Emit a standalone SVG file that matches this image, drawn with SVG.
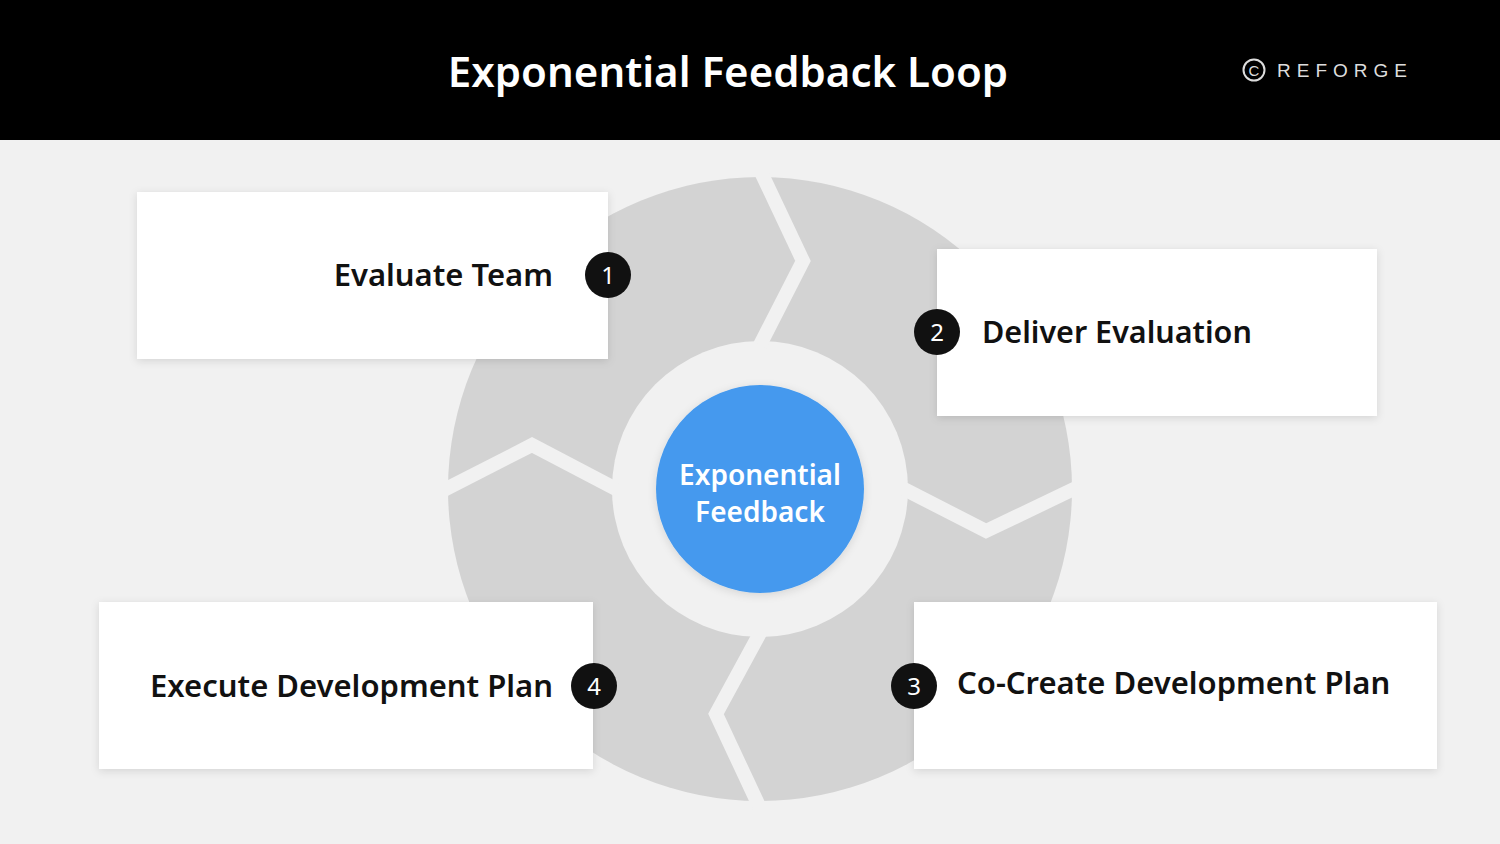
<svg xmlns="http://www.w3.org/2000/svg" width="1500" height="844" viewBox="0 0 1500 844">
<defs>
<style>
.t{font-family:"Noto Sans","Liberation Sans",sans-serif;font-weight:600;fill:#111}
.box{fill:#fff;filter:url(#sh)}
.badge{fill:#111}
.bn{font-family:"Noto Sans","Liberation Sans",sans-serif;font-size:24px;fill:#fff;text-anchor:middle}
.gap{fill:none;stroke:#f1f1f1;stroke-width:14;stroke-linejoin:miter}
</style>
<filter id="sh" x="-10%" y="-20%" width="120%" height="140%"><feDropShadow dx="0" dy="2" stdDeviation="4" flood-opacity="0.12"/></filter>
</defs>
<rect width="1500" height="844" fill="#f1f1f1"/>
<rect width="1500" height="140" fill="#000"/>
<text x="728" y="87" font-family="Noto Sans, Liberation Sans, sans-serif" font-weight="600" font-size="42" fill="#fff" text-anchor="middle">Exponential Feedback Loop</text>
<circle cx="1254" cy="70" r="10.5" fill="none" stroke="#ddd" stroke-width="2"/>
<text x="1254" y="76" font-family="Liberation Sans, sans-serif" font-size="15" fill="#ddd" text-anchor="middle">C</text>
<text x="1277" y="77" font-family="Liberation Sans, sans-serif" font-size="19" fill="#ddd" letter-spacing="6">REFORGE</text>
<g id="ring">
<circle cx="760" cy="489" r="312" fill="#d3d3d3"/>
<circle cx="760" cy="489" r="148" fill="#f1f1f1"/>
</g>
<g id="connectors">
<polyline class="gap" points="760,170 803,261 760,345"/>
<polyline class="gap" points="904,489 986,531 1080,486"/>
<polyline class="gap" points="760,633 716,714 760,808"/>
<polyline class="gap" points="616,489 532,445 440,492"/>
</g>
<g id="center">
<circle cx="760" cy="489" r="104" fill="#4499ee" filter="url(#sh)"/>
<text x="760" y="485" text-anchor="middle" font-family="Noto Sans, Liberation Sans, sans-serif" font-weight="600" font-size="28" fill="#fff">Exponential</text>
<text x="760" y="522" text-anchor="middle" font-family="Noto Sans, Liberation Sans, sans-serif" font-weight="600" font-size="28" fill="#fff">Feedback</text>
</g>
<g id="node1">
<rect class="box" x="137" y="192" width="471" height="167"/>
<text class="t" x="553" y="286" font-size="31" text-anchor="end">Evaluate Team</text>
<circle class="badge" cx="608" cy="275" r="23"/><text class="bn" x="608" y="284">1</text>
</g>
<g id="node2">
<rect class="box" x="937" y="249" width="440" height="167"/>
<text class="t" x="982" y="343" font-size="30.5">Deliver Evaluation</text>
<circle class="badge" cx="937" cy="332" r="23"/><text class="bn" x="937" y="341">2</text>
</g>
<g id="node3">
<rect class="box" x="914" y="602" width="523" height="167"/>
<text class="t" x="957" y="694" font-size="31">Co-Create Development Plan</text>
<circle class="badge" cx="914" cy="686" r="23"/><text class="bn" x="914" y="695">3</text>
</g>
<g id="node4">
<rect class="box" x="99" y="602" width="494" height="167"/>
<text class="t" x="553" y="697" font-size="31" text-anchor="end">Execute Development Plan</text>
<circle class="badge" cx="594" cy="686" r="23"/><text class="bn" x="594" y="695">4</text>
</g>
</svg>
